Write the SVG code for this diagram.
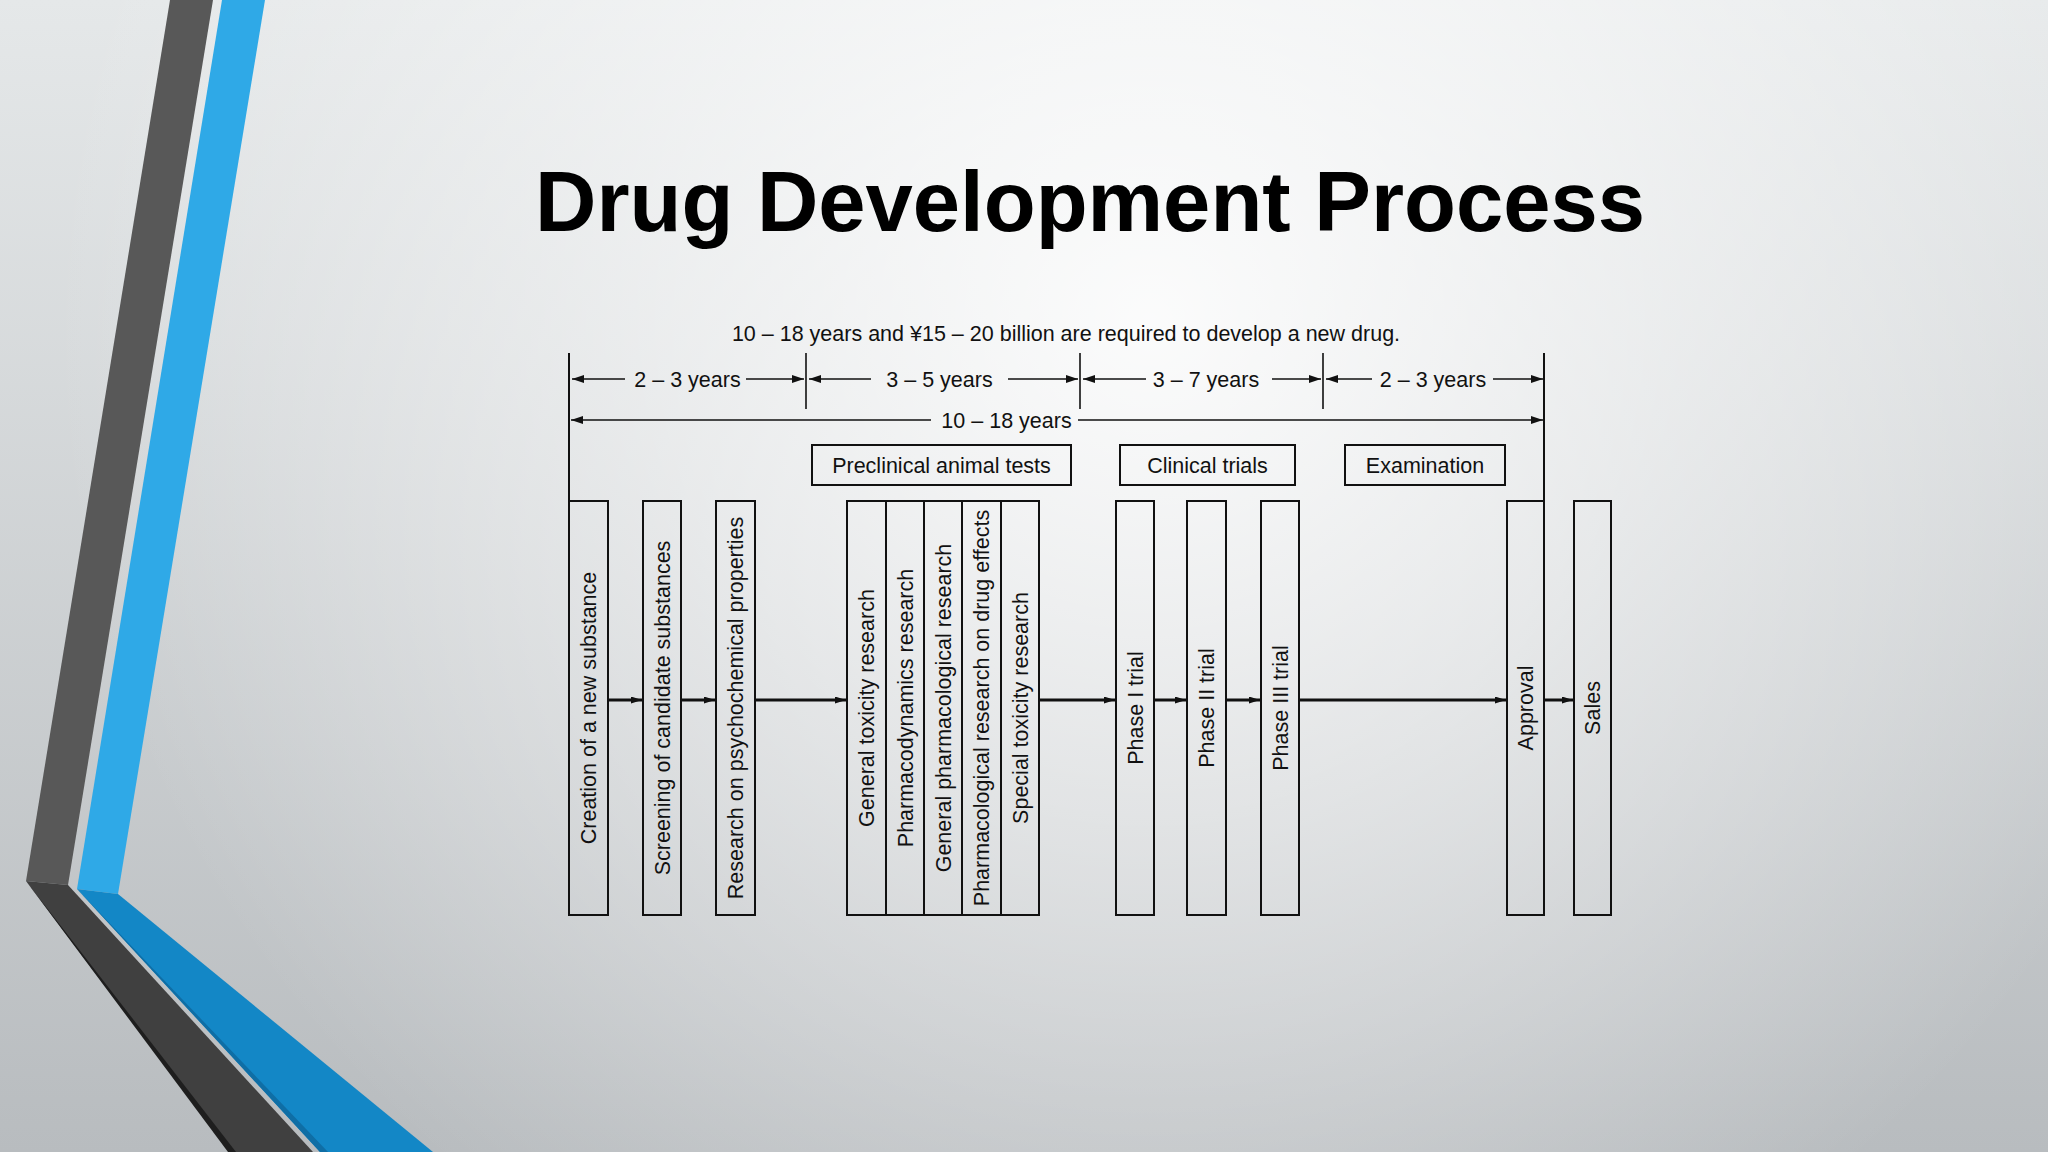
<svg xmlns="http://www.w3.org/2000/svg" width="2048" height="1152" viewBox="0 0 2048 1152">
<defs>
<linearGradient id="bg" x1="0" y1="0" x2="0" y2="1">
<stop offset="0" stop-color="#e5e8e9"/>
<stop offset="1" stop-color="#b8bcbf"/>
</linearGradient>
<radialGradient id="hl" cx="1150" cy="320" r="1100" gradientUnits="userSpaceOnUse">
<stop offset="0" stop-color="#ffffff" stop-opacity="0.9"/>
<stop offset="0.45" stop-color="#ffffff" stop-opacity="0.5"/>
<stop offset="1" stop-color="#ffffff" stop-opacity="0"/>
</radialGradient>
<marker id="dimArrow" markerUnits="userSpaceOnUse" markerWidth="13" markerHeight="9" refX="12" refY="4" orient="auto-start-reverse">
<path d="M0,0 L12,4 L0,8 z" fill="#111"/>
</marker>
<marker id="flowArrow" markerUnits="userSpaceOnUse" markerWidth="12" markerHeight="8" refX="11" refY="3.5" orient="auto">
<path d="M0,0 L11,3.5 L0,7 z" fill="#111"/>
</marker>
<style>
.title{font-family:"Liberation Sans",Arial,sans-serif;font-weight:bold;font-size:86px;fill:#000}
.lbl{font-family:"Liberation Sans",Arial,sans-serif;font-size:21.5px;fill:#111}
.box{fill:none;stroke:#111;stroke-width:2}
.dim{stroke:#111;stroke-width:1.6;fill:none}
.vline{stroke:#111;stroke-width:2;fill:none}
.flow{stroke:#111;stroke-width:3;fill:none}
</style>
</defs>

<rect x="0" y="0" width="2048" height="1152" fill="url(#bg)"/>
<rect x="0" y="0" width="2048" height="1152" fill="url(#hl)"/>

<g id="decoration">
<polygon points="170,0 213,0 68,885 26,881" fill="#585858"/>
<polygon points="222,0 265,0 118,894 77,889" fill="#2fa9e7"/>
<polygon points="26,881 68,885 313,1152 230,1152" fill="#404040"/>
<polygon points="26,881 236,1152 228,1152" fill="#1e1e1e"/>
<polygon points="77,889 118,894 433,1152 320,1152" fill="#1387c6"/>
<polygon points="77,889 328,1152 320,1152" fill="#0f6ea5"/>
</g>

<text class="title" x="1090" y="231" text-anchor="middle" textLength="1110" lengthAdjust="spacingAndGlyphs">Drug Development Process</text>

<text id="summary" class="lbl" x="1066" y="341" text-anchor="middle">10 – 18 years and ¥15 – 20 billion are required to develop a new drug.</text>

<g id="connectors">
<line class="vline" x1="569" y1="353" x2="569" y2="501"/>
<line class="vline" x1="1544" y1="353" x2="1544" y2="501"/>
<line class="dim" x1="806" y1="353" x2="806" y2="409"/>
<line class="dim" x1="1080" y1="353" x2="1080" y2="409"/>
<line class="dim" x1="1323" y1="353" x2="1323" y2="409"/>

<line class="dim" x1="572" y1="379" x2="625" y2="379" marker-start="url(#dimArrow)"/>
<line class="dim" x1="746" y1="379" x2="804" y2="379" marker-end="url(#dimArrow)"/>
<line class="dim" x1="809" y1="379" x2="871" y2="379" marker-start="url(#dimArrow)"/>
<line class="dim" x1="1008" y1="379" x2="1078" y2="379" marker-end="url(#dimArrow)"/>
<line class="dim" x1="1083" y1="379" x2="1146" y2="379" marker-start="url(#dimArrow)"/>
<line class="dim" x1="1272" y1="379" x2="1321" y2="379" marker-end="url(#dimArrow)"/>
<line class="dim" x1="1326" y1="379" x2="1372" y2="379" marker-start="url(#dimArrow)"/>
<line class="dim" x1="1493" y1="379" x2="1543" y2="379" marker-end="url(#dimArrow)"/>

<line class="dim" x1="571" y1="420" x2="931" y2="420" marker-start="url(#dimArrow)"/>
<line class="dim" x1="1078" y1="420" x2="1543" y2="420" marker-end="url(#dimArrow)"/>

<line class="flow" x1="608" y1="700" x2="642" y2="700" marker-end="url(#flowArrow)"/>
<line class="flow" x1="681" y1="700" x2="715" y2="700" marker-end="url(#flowArrow)"/>
<line class="flow" x1="755" y1="700" x2="846" y2="700" marker-end="url(#flowArrow)"/>
<line class="flow" x1="1039" y1="700" x2="1115" y2="700" marker-end="url(#flowArrow)"/>
<line class="flow" x1="1154" y1="700" x2="1186" y2="700" marker-end="url(#flowArrow)"/>
<line class="flow" x1="1226" y1="700" x2="1260" y2="700" marker-end="url(#flowArrow)"/>
<line class="flow" x1="1299" y1="700" x2="1506" y2="700" marker-end="url(#flowArrow)"/>
<line class="flow" x1="1544" y1="700" x2="1573" y2="700" marker-end="url(#flowArrow)"/>
</g>

<g id="durations">
<text class="lbl" x="687.5" y="386.7" text-anchor="middle">2 – 3 years</text>
<text class="lbl" x="939.5" y="386.7" text-anchor="middle">3 – 5 years</text>
<text class="lbl" x="1206" y="386.7" text-anchor="middle">3 – 7 years</text>
<text class="lbl" x="1433" y="386.7" text-anchor="middle">2 – 3 years</text>
<text class="lbl" x="1006.5" y="427.7" text-anchor="middle">10 – 18 years</text>
</g>

<g id="grp-preclinical">
<rect class="box" x="812" y="445" width="259" height="40"/>
<text class="lbl" x="941.5" y="472.7" text-anchor="middle">Preclinical animal tests</text>
</g>
<g id="grp-clinical">
<rect class="box" x="1120" y="445" width="175" height="40"/>
<text class="lbl" x="1207.5" y="472.7" text-anchor="middle">Clinical trials</text>
</g>
<g id="grp-examination">
<rect class="box" x="1345" y="445" width="160" height="40"/>
<text class="lbl" x="1425" y="472.7" text-anchor="middle">Examination</text>
</g>

<g id="n-creation">
<rect class="box" x="569" y="501" width="39" height="414"/>
<text class="lbl" transform="translate(596.2,708) rotate(-90)" text-anchor="middle">Creation of a new substance</text>
</g>
<g id="n-screening">
<rect class="box" x="643" y="501" width="38" height="414"/>
<text class="lbl" transform="translate(669.7,708) rotate(-90)" text-anchor="middle">Screening of candidate substances</text>
</g>
<g id="n-physchem">
<rect class="box" x="716" y="501" width="39" height="414"/>
<text class="lbl" transform="translate(743.2,708) rotate(-90)" text-anchor="middle">Research on psychochemical properties</text>
</g>
<g id="n-gen-tox">
<rect class="box" x="847" y="501" width="39" height="414"/>
<text class="lbl" transform="translate(874.2,708) rotate(-90)" text-anchor="middle">General toxicity research</text>
</g>
<g id="n-pharmacodyn">
<rect class="box" x="886" y="501" width="38" height="414"/>
<text class="lbl" transform="translate(912.7,708) rotate(-90)" text-anchor="middle">Pharmacodynamics research</text>
</g>
<g id="n-gen-pharm">
<rect class="box" x="924" y="501" width="38" height="414"/>
<text class="lbl" transform="translate(950.7,708) rotate(-90)" text-anchor="middle">General pharmacological research</text>
</g>
<g id="n-pharm-effects">
<rect class="box" x="962" y="501" width="39" height="414"/>
<text class="lbl" transform="translate(989.2,708) rotate(-90)" text-anchor="middle">Pharmacological research on drug effects</text>
</g>
<g id="n-special-tox">
<rect class="box" x="1001" y="501" width="38" height="414"/>
<text class="lbl" transform="translate(1027.7,708) rotate(-90)" text-anchor="middle">Special toxicity research</text>
</g>
<g id="n-phase1">
<rect class="box" x="1116" y="501" width="38" height="414"/>
<text class="lbl" transform="translate(1142.7,708) rotate(-90)" text-anchor="middle">Phase I trial</text>
</g>
<g id="n-phase2">
<rect class="box" x="1187" y="501" width="39" height="414"/>
<text class="lbl" transform="translate(1214.2,708) rotate(-90)" text-anchor="middle">Phase II trial</text>
</g>
<g id="n-phase3">
<rect class="box" x="1261" y="501" width="38" height="414"/>
<text class="lbl" transform="translate(1287.7,708) rotate(-90)" text-anchor="middle">Phase III trial</text>
</g>
<g id="n-approval">
<rect class="box" x="1507" y="501" width="37" height="414"/>
<text class="lbl" transform="translate(1533.2,708) rotate(-90)" text-anchor="middle">Approval</text>
</g>
<g id="n-sales">
<rect class="box" x="1574" y="501" width="37" height="414"/>
<text class="lbl" transform="translate(1600.2,708) rotate(-90)" text-anchor="middle">Sales</text>
</g>
</svg>
